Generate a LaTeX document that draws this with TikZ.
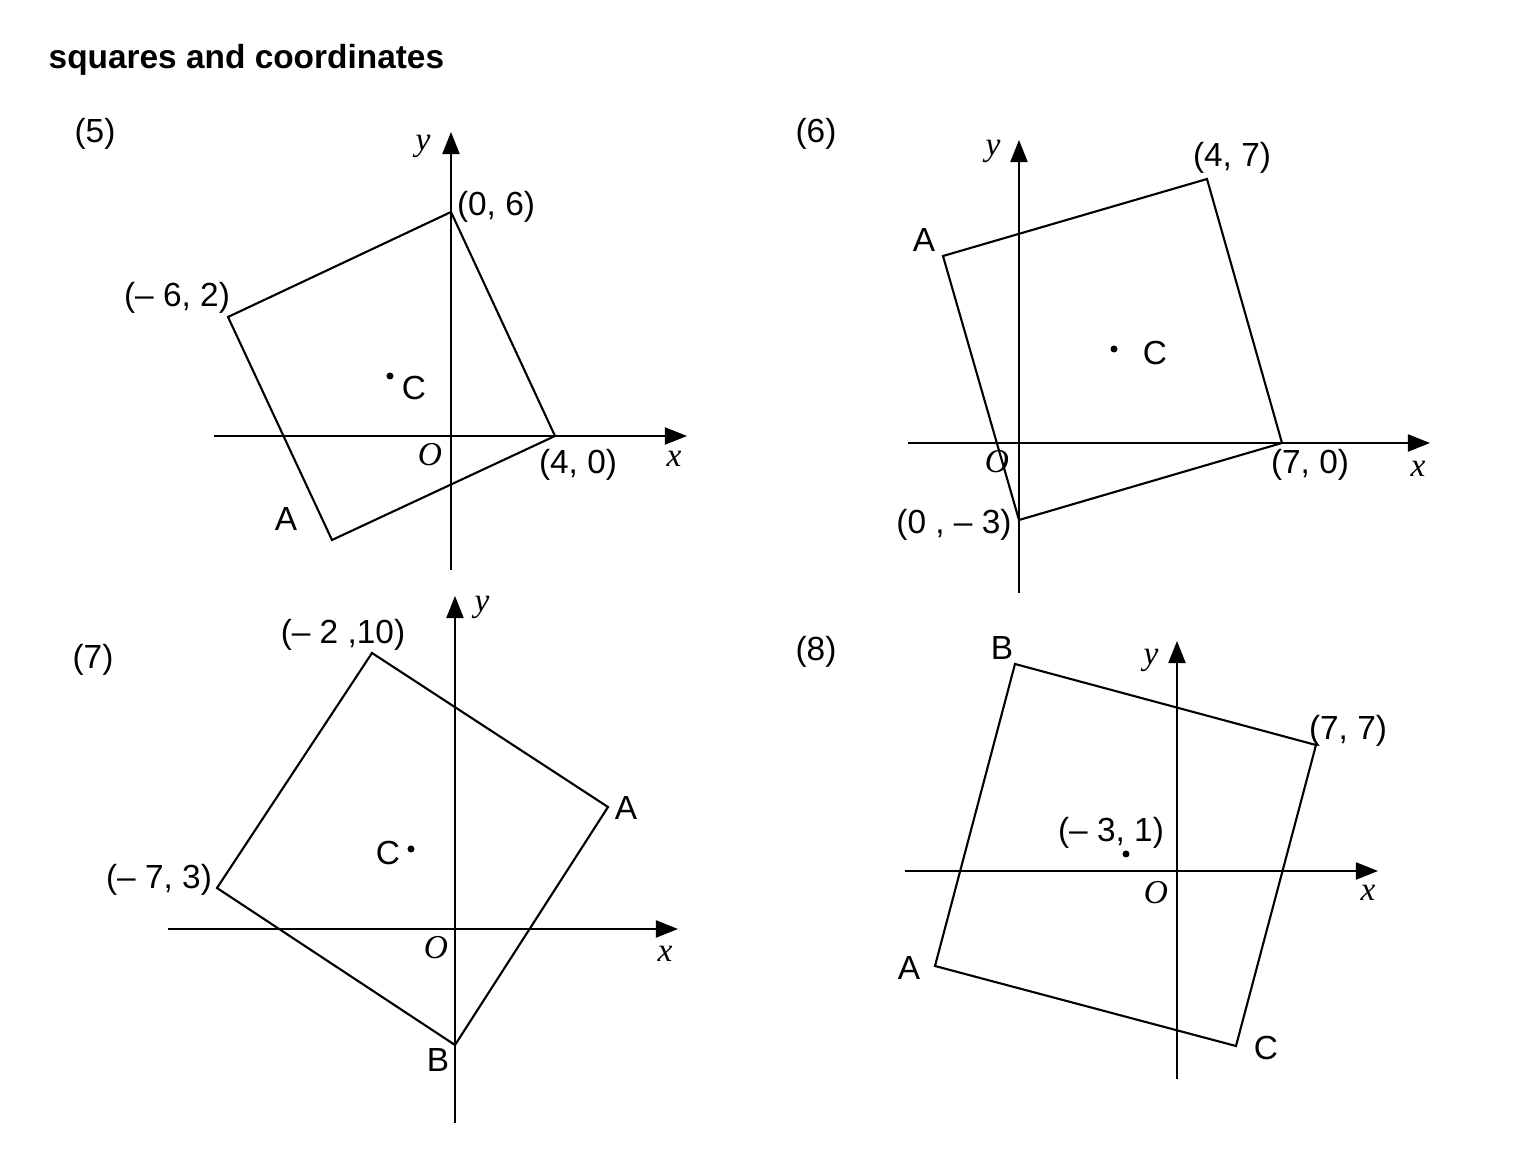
\documentclass[tikz,border=0pt]{standalone}
\usepackage{fontspec}
\setmainfont{Liberation Sans}
\newfontfamily\serifit{Liberation Serif}
\usetikzlibrary{arrows.meta}
\begin{document}
\begin{tikzpicture}[x={(0.01cm,0)},y={(0,-0.01cm)},
 ax/.style={line width=0.6pt,-{Triangle[length=0.22cm,width=0.17cm]}},
 sq/.style={line width=0.6pt},
 lb/.style={font=\fontsize{9.5}{11}\selectfont,inner sep=0pt},
 it/.style={font=\fontsize{9.5}{11}\serifit\itshape,inner sep=0pt},
 dt/.style={circle,fill,inner sep=0pt,minimum size=0.07cm}]
\useasboundingbox (0,0) rectangle (1532,1158);
\node[lb,anchor=west,font=\fontsize{9.5}{11}\selectfont\bfseries] (title) at (48,60) {squares and coordinates};
% panel 5
\node[lb] (n5) at (95,134) {(5)};
\coordinate (a5b) at (451,570); \coordinate (a5t) at (451,132);
\coordinate (a5l) at (214,436); \coordinate (a5r) at (687,436);
\draw[ax] (a5b) -- (a5t); \draw[ax] (a5l) -- (a5r);
\coordinate (p51) at (451,212); \coordinate (p52) at (228,317);
\coordinate (p53) at (332,540); \coordinate (p54) at (555,436);
\draw[sq] (p51) -- (p52) -- (p53) -- (p54) -- cycle;
\node[dt] (c5) at (390,376) {};
\node[lb] at (496,207) {(0, 6)};
\node[lb] at (177,298) {(– 6, 2)};
\node[lb] at (414,388) {C};
\node[it] at (430,455) {O};
\node[lb] at (578,465) {(4, 0)};
\node[it] at (674,459) {x};
\node[it] at (423,146) {y};
\node[lb] at (286,519) {A};
% panel 6
\node[lb] (n6) at (816,134) {(6)};
\coordinate (a6b) at (1019,593); \coordinate (a6t) at (1019,140);
\coordinate (a6l) at (908,443); \coordinate (a6r) at (1430,443);
\draw[ax] (a6b) -- (a6t); \draw[ax] (a6l) -- (a6r);
\coordinate (p61) at (1207,179); \coordinate (p62) at (943,256);
\coordinate (p63) at (1019,520); \coordinate (p64) at (1282,443);
\draw[sq] (p61) -- (p62) -- (p63) -- (p64) -- cycle;
\node[dt] (c6) at (1114,349) {};
\node[lb] at (1155,353) {C};
\node[lb] at (1232,158) {(4, 7)};
\node[lb] at (924,240) {A};
\node[it] at (997,462) {O};
\node[lb] at (1310,465) {(7, 0)};
\node[it] at (1418,469) {x};
\node[it] at (993,151) {y};
\node[lb] at (954,525) {(0 , – 3)};
% panel 7
\node[lb] (n7) at (93,660) {(7)};
\coordinate (a7b) at (455,1123); \coordinate (a7t) at (455,596);
\coordinate (a7l) at (168,929); \coordinate (a7r) at (678,929);
\draw[ax] (a7b) -- (a7t); \draw[ax] (a7l) -- (a7r);
\coordinate (p71) at (372,653); \coordinate (p72) at (608,807);
\coordinate (p73) at (455,1045); \coordinate (p74) at (217,888);
\draw[sq] (p71) -- (p72) -- (p73) -- (p74) -- cycle;
\node[dt] (c7) at (411,849) {};
\node[lb] at (388,853) {C};
\node[lb] at (343,635) {(– 2 ,10)};
\node[lb] at (626,808) {A};
\node[lb] at (159,880) {(– 7, 3)};
\node[it] at (436,948) {O};
\node[it] at (665,954) {x};
\node[it] at (482,607) {y};
\node[lb] at (438,1060) {B};
% panel 8
\node[lb] (n8) at (816,652) {(8)};
\coordinate (a8b) at (1177,1079); \coordinate (a8t) at (1177,641);
\coordinate (a8l) at (905,871); \coordinate (a8r) at (1378,871);
\draw[ax] (a8b) -- (a8t); \draw[ax] (a8l) -- (a8r);
\coordinate (p81) at (1015,664); \coordinate (p82) at (1316,745);
\coordinate (p83) at (1236,1046); \coordinate (p84) at (935,966);
\draw[sq] (p81) -- (p82) -- (p83) -- (p84) -- cycle;
\node[dt] (c8) at (1126,854) {};
\node[lb] at (1002,648) {B};
\node[lb] at (1348,731) {(7, 7)};
\node[lb] at (1111,833) {(– 3, 1)};
\node[it] at (1156,893) {O};
\node[it] at (1368,893) {x};
\node[it] at (1151,660) {y};
\node[lb] at (909,968) {A};
\node[lb] at (1266,1048) {C};
\end{tikzpicture}
\end{document}
